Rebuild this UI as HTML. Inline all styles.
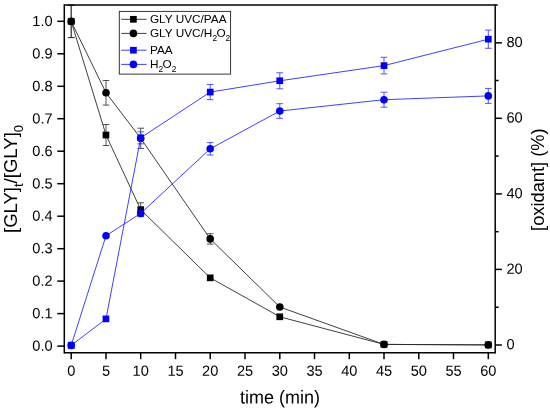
<!DOCTYPE html>
<html><head><meta charset="utf-8"><title>chart</title>
<style>html,body{margin:0;padding:0;background:#fff;}svg{display:block;}text{font-family:"Liberation Sans",Arial,sans-serif;fill:#000;}</style>
</head><body>
<svg width="550" height="412" viewBox="0 0 550 412">
<rect width="550" height="412" fill="#fff"/>
<polyline fill="none" stroke="#2a2a2a" stroke-width="0.9" points="71.2,21.4 106.0,135.0 140.7,209.7 210.2,277.8 279.8,316.8 384.0,344.4 488.3,344.9"/>
<path d="M71.2 5.2V37.6M67.9 5.2H74.5M67.9 37.6H74.5" fill="none" stroke="#2a2a2a" stroke-width="0.8"/>
<path d="M106.0 124.5V145.5M102.7 124.5H109.3M102.7 145.5H109.3" fill="none" stroke="#2a2a2a" stroke-width="0.8"/>
<path d="M140.7 202.8V216.6M137.4 202.8H144.0M137.4 216.6H144.0" fill="none" stroke="#2a2a2a" stroke-width="0.8"/>
<rect x="67.85" y="18.05" width="6.7" height="6.7" fill="#000"/>
<rect x="102.61" y="131.66" width="6.7" height="6.7" fill="#000"/>
<rect x="137.37" y="206.32" width="6.7" height="6.7" fill="#000"/>
<rect x="206.88" y="274.48" width="6.7" height="6.7" fill="#000"/>
<rect x="276.40" y="313.44" width="6.7" height="6.7" fill="#000"/>
<rect x="380.68" y="341.03" width="6.7" height="6.7" fill="#000"/>
<rect x="484.95" y="341.55" width="6.7" height="6.7" fill="#000"/>
<polyline fill="none" stroke="#2a2a2a" stroke-width="0.9" points="71.2,21.4 106.0,92.8 140.7,138.3 210.2,238.9 279.8,307.0 384.0,344.4 488.3,344.9"/>
<path d="M71.2 5.2V37.6M67.9 5.2H74.5M67.9 37.6H74.5" fill="none" stroke="#2a2a2a" stroke-width="0.8"/>
<path d="M106.0 80.5V105.1M102.7 80.5H109.3M102.7 105.1H109.3" fill="none" stroke="#2a2a2a" stroke-width="0.8"/>
<path d="M140.7 128.2V148.4M137.4 128.2H144.0M137.4 148.4H144.0" fill="none" stroke="#2a2a2a" stroke-width="0.8"/>
<path d="M210.2 233.7V244.1M206.9 233.7H213.5M206.9 244.1H213.5" fill="none" stroke="#2a2a2a" stroke-width="0.8"/>
<circle cx="71.2" cy="21.4" r="3.8" fill="#000"/>
<circle cx="106.0" cy="92.8" r="3.8" fill="#000"/>
<circle cx="140.7" cy="138.3" r="3.8" fill="#000"/>
<circle cx="210.2" cy="238.9" r="3.8" fill="#000"/>
<circle cx="279.8" cy="307.0" r="3.8" fill="#000"/>
<circle cx="384.0" cy="344.4" r="3.8" fill="#000"/>
<circle cx="488.3" cy="344.9" r="3.8" fill="#000"/>
<polyline fill="none" stroke="#2a2aff" stroke-width="0.9" points="71.2,345.4 106.0,318.9 140.7,137.8 210.2,92.1 279.8,80.8 384.0,65.6 488.3,39.2"/>
<path d="M140.7 131.8V143.8M137.4 131.8H144.0M137.4 143.8H144.0" fill="none" stroke="#2a2aff" stroke-width="0.8"/>
<path d="M210.2 84.5V99.7M206.9 84.5H213.5M206.9 99.7H213.5" fill="none" stroke="#2a2aff" stroke-width="0.8"/>
<path d="M279.8 72.8V88.8M276.4 72.8H283.1M276.4 88.8H283.1" fill="none" stroke="#2a2aff" stroke-width="0.8"/>
<path d="M384.0 57.3V73.9M380.7 57.3H387.3M380.7 73.9H387.3" fill="none" stroke="#2a2aff" stroke-width="0.8"/>
<path d="M488.3 30.1V48.3M485.0 30.1H491.6M485.0 48.3H491.6" fill="none" stroke="#2a2aff" stroke-width="0.8"/>
<rect x="67.85" y="342.00" width="6.7" height="6.7" fill="#0000ff"/>
<rect x="102.61" y="315.54" width="6.7" height="6.7" fill="#0000ff"/>
<rect x="137.37" y="134.48" width="6.7" height="6.7" fill="#0000ff"/>
<rect x="206.88" y="88.74" width="6.7" height="6.7" fill="#0000ff"/>
<rect x="276.40" y="77.40" width="6.7" height="6.7" fill="#0000ff"/>
<rect x="380.68" y="62.28" width="6.7" height="6.7" fill="#0000ff"/>
<rect x="484.95" y="35.82" width="6.7" height="6.7" fill="#0000ff"/>
<polyline fill="none" stroke="#2a2aff" stroke-width="0.9" points="71.2,345.4 106.0,235.7 140.7,213.4 210.2,148.8 279.8,111.0 384.0,99.7 488.3,95.9"/>
<path d="M210.2 142.6V155.0M206.9 142.6H213.5M206.9 155.0H213.5" fill="none" stroke="#2a2aff" stroke-width="0.8"/>
<path d="M279.8 103.7V118.3M276.4 103.7H283.1M276.4 118.3H283.1" fill="none" stroke="#2a2aff" stroke-width="0.8"/>
<path d="M384.0 92.2V107.2M380.7 92.2H387.3M380.7 107.2H387.3" fill="none" stroke="#2a2aff" stroke-width="0.8"/>
<path d="M488.3 88.4V103.4M485.0 88.4H491.6M485.0 103.4H491.6" fill="none" stroke="#2a2aff" stroke-width="0.8"/>
<circle cx="71.2" cy="345.4" r="3.8" fill="#0000ff"/>
<circle cx="106.0" cy="235.7" r="3.8" fill="#0000ff"/>
<circle cx="140.7" cy="213.4" r="3.8" fill="#0000ff"/>
<circle cx="210.2" cy="148.8" r="3.8" fill="#0000ff"/>
<circle cx="279.8" cy="111.0" r="3.8" fill="#0000ff"/>
<circle cx="384.0" cy="99.7" r="3.8" fill="#0000ff"/>
<circle cx="488.3" cy="95.9" r="3.8" fill="#0000ff"/>
<g stroke="#000" stroke-width="1.5" fill="none" stroke-linecap="butt">
<path d="M64.3 4.2V353.6"/>
<path d="M495.2 4.2V353.6"/>
<path d="M64.3 5.0H497.7"/>
<path d="M64.3 352.8H495.2"/>
<path d="M57.3 346.1H64.3"/>
<path d="M57.3 313.6H64.3"/>
<path d="M57.3 281.1H64.3"/>
<path d="M57.3 248.7H64.3"/>
<path d="M57.3 216.2H64.3"/>
<path d="M57.3 183.7H64.3"/>
<path d="M57.3 151.2H64.3"/>
<path d="M57.3 118.7H64.3"/>
<path d="M57.3 86.3H64.3"/>
<path d="M57.3 53.8H64.3"/>
<path d="M57.3 21.3H64.3"/>
<path d="M71.2 352.8V359.2"/>
<path d="M106.0 352.8V359.2"/>
<path d="M140.7 352.8V359.2"/>
<path d="M175.5 352.8V359.2"/>
<path d="M210.2 352.8V359.2"/>
<path d="M245.0 352.8V359.2"/>
<path d="M279.8 352.8V359.2"/>
<path d="M314.5 352.8V359.2"/>
<path d="M349.3 352.8V359.2"/>
<path d="M384.0 352.8V359.2"/>
<path d="M418.8 352.8V359.2"/>
<path d="M453.5 352.8V359.2"/>
<path d="M488.3 352.8V359.2"/>
<path d="M495.2 345.0H501.9"/>
<path d="M495.2 307.2H498.6"/>
<path d="M495.2 269.4H501.9"/>
<path d="M495.2 231.7H498.6"/>
<path d="M495.2 193.9H501.9"/>
<path d="M495.2 156.1H498.6"/>
<path d="M495.2 118.3H501.9"/>
<path d="M495.2 80.5H498.6"/>
<path d="M495.2 42.8H501.9"/>
</g>
<text transform="translate(52.6 350.8) rotate(0.03) scale(1 1.0)" font-size="14.6" text-anchor="end">0.0</text>
<text transform="translate(52.6 318.3) rotate(0.03) scale(1 1.0)" font-size="14.6" text-anchor="end">0.1</text>
<text transform="translate(52.6 285.8) rotate(0.03) scale(1 1.0)" font-size="14.6" text-anchor="end">0.2</text>
<text transform="translate(52.6 253.3) rotate(0.03) scale(1 1.0)" font-size="14.6" text-anchor="end">0.3</text>
<text transform="translate(52.6 220.8) rotate(0.03) scale(1 1.0)" font-size="14.6" text-anchor="end">0.4</text>
<text transform="translate(52.6 188.4) rotate(0.03) scale(1 1.0)" font-size="14.6" text-anchor="end">0.5</text>
<text transform="translate(52.6 155.9) rotate(0.03) scale(1 1.0)" font-size="14.6" text-anchor="end">0.6</text>
<text transform="translate(52.6 123.4) rotate(0.03) scale(1 1.0)" font-size="14.6" text-anchor="end">0.7</text>
<text transform="translate(52.6 90.9) rotate(0.03) scale(1 1.0)" font-size="14.6" text-anchor="end">0.8</text>
<text transform="translate(52.6 58.4) rotate(0.03) scale(1 1.0)" font-size="14.6" text-anchor="end">0.9</text>
<text transform="translate(52.6 26.0) rotate(0.03) scale(1 1.0)" font-size="14.6" text-anchor="end">1.0</text>
<text transform="translate(71.2 375.7) rotate(0.03) scale(1 1.0)" font-size="14.6" text-anchor="middle">0</text>
<text transform="translate(106.0 375.7) rotate(0.03) scale(1 1.0)" font-size="14.6" text-anchor="middle">5</text>
<text transform="translate(140.7 375.7) rotate(0.03) scale(1 1.0)" font-size="14.6" text-anchor="middle">10</text>
<text transform="translate(175.5 375.7) rotate(0.03) scale(1 1.0)" font-size="14.6" text-anchor="middle">15</text>
<text transform="translate(210.2 375.7) rotate(0.03) scale(1 1.0)" font-size="14.6" text-anchor="middle">20</text>
<text transform="translate(245.0 375.7) rotate(0.03) scale(1 1.0)" font-size="14.6" text-anchor="middle">25</text>
<text transform="translate(279.8 375.7) rotate(0.03) scale(1 1.0)" font-size="14.6" text-anchor="middle">30</text>
<text transform="translate(314.5 375.7) rotate(0.03) scale(1 1.0)" font-size="14.6" text-anchor="middle">35</text>
<text transform="translate(349.3 375.7) rotate(0.03) scale(1 1.0)" font-size="14.6" text-anchor="middle">40</text>
<text transform="translate(384.0 375.7) rotate(0.03) scale(1 1.0)" font-size="14.6" text-anchor="middle">45</text>
<text transform="translate(418.8 375.7) rotate(0.03) scale(1 1.0)" font-size="14.6" text-anchor="middle">50</text>
<text transform="translate(453.5 375.7) rotate(0.03) scale(1 1.0)" font-size="14.6" text-anchor="middle">55</text>
<text transform="translate(488.3 375.7) rotate(0.03) scale(1 1.0)" font-size="14.6" text-anchor="middle">60</text>
<text transform="translate(506.5 349.3) rotate(0.03) scale(1 1.0)" font-size="14.6">0</text>
<text transform="translate(506.5 273.7) rotate(0.03) scale(1 1.0)" font-size="14.6">20</text>
<text transform="translate(506.5 198.2) rotate(0.03) scale(1 1.0)" font-size="14.6">40</text>
<text transform="translate(506.5 122.6) rotate(0.03) scale(1 1.0)" font-size="14.6">60</text>
<text transform="translate(506.5 47.1) rotate(0.03) scale(1 1.0)" font-size="14.6">80</text>
<text transform="translate(280 403.5) rotate(0.03) scale(1 1.04)" font-size="18" text-anchor="middle">time (min)</text>
<text transform="translate(16.9 179) rotate(-90)" font-size="18.55" text-anchor="middle">[GLY]<tspan font-size="13" dy="5.8">t</tspan><tspan dy="-5.8">/[GLY]</tspan><tspan font-size="13" dy="5.8">0</tspan></text>
<text transform="translate(543.9 179.6) rotate(-90)" font-size="18.3" text-anchor="middle">[oxidant] (%)</text>
<rect x="119.3" y="11.4" width="111.3" height="62.7" fill="#fff" stroke="#222" stroke-width="0.9"/>
<path d="M121.2 19.3H146.6" stroke="#2a2a2a" stroke-width="0.9" fill="none"/>
<rect x="130.05" y="15.95" width="6.7" height="6.7" fill="#000"/>
<text x="149.9" y="23.3" font-size="11.8">GLY UVC/PAA</text>
<path d="M121.2 33.4H146.6" stroke="#2a2a2a" stroke-width="0.9" fill="none"/>
<circle cx="133.4" cy="33.4" r="3.8" fill="#000"/>
<text x="149.9" y="37.4" font-size="11.8">GLY UVC/H<tspan font-size="8.4" letter-spacing="-0.65" dy="3.7">2</tspan><tspan dy="-3.7">O</tspan><tspan font-size="8.4" letter-spacing="-0.65" dy="3.7">2</tspan></text>
<path d="M121.2 50.2H146.6" stroke="#2a2aff" stroke-width="0.9" fill="none"/>
<rect x="130.05" y="46.85" width="6.7" height="6.7" fill="#0000ff"/>
<text x="149.9" y="54.2" font-size="11.8">PAA</text>
<path d="M121.2 64.4H146.6" stroke="#2a2aff" stroke-width="0.9" fill="none"/>
<circle cx="133.4" cy="64.4" r="3.8" fill="#0000ff"/>
<text x="149.9" y="68.4" font-size="11.8">H<tspan font-size="8.4" letter-spacing="-0.65" dy="3.7">2</tspan><tspan dy="-3.7">O</tspan><tspan font-size="8.4" letter-spacing="-0.65" dy="3.7">2</tspan></text>
</svg>
</body></html>
